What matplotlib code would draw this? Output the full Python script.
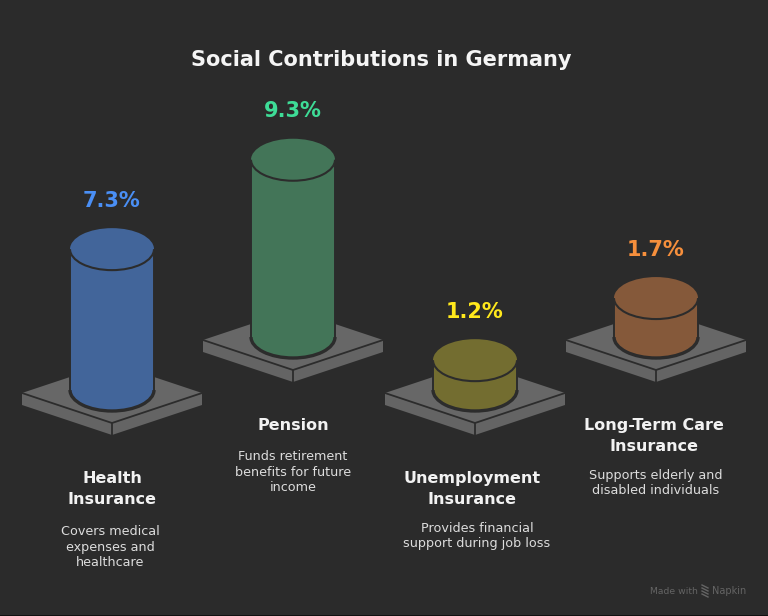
import matplotlib
matplotlib.use('Agg')
import matplotlib.pyplot as plt
from matplotlib.patches import Arc, Ellipse, Polygon, Rectangle

# contribution rates in percent
categories = ['Health\nInsurance', 'Pension', 'Unemployment\nInsurance', 'Long-Term Care\nInsurance']
values = [7.3, 9.3, 1.2, 1.7]
descriptions = ['Covers medical\nexpenses and\nhealthcare',
                'Funds retirement\nbenefits for future\nincome',
                'Provides financial\nsupport during job loss',
                'Supports elderly and\ndisabled individuals']
title = 'Social Contributions in Germany'

# layout, in pixels
centers_x = [112, 293, 475, 656]
floors_y = [390, 337, 390, 337]
name_x = [112, 293, 472, 654]
name_y = [489, 425, 489, 436]
desc_x = [110, 293, 477, 656]
desc_y = [547, 472, 536, 483]
body_colors = ['#42659a', '#437558', '#736d30', '#85593a']
label_colors = ['#4a8ff5', '#3edc97', '#ffe81c', '#f68f3c']

BG = '#2b2b2b'
EDGE = '#2c2c2c'
SLAB = '#676767'
SLAB_SIDE = '#646464'
RX, RY = 42, 21
HEIGHT_BASE, HEIGHT_SCALE = 8, 18.2

plt.rcParams['font.family'] = ['DejaVu Sans']

fig = plt.figure(figsize=(7.68, 6.16), dpi=100, facecolor=BG)
ax = fig.add_axes([0, 0, 1, 1])
ax.set_xlim(0, 768)
ax.set_ylim(616, 0)
ax.axis('off')


def draw_slab(cx, floor):
    # isometric plate under a cylinder, only the front edges are outlined
    cy = floor + 3
    w, h, t = 90, 30, 12
    ax.add_patch(Polygon([(cx - w, cy), (cx + w, cy), (cx + w, cy + t), (cx, cy + h + t), (cx - w, cy + t)],
                         fc=SLAB_SIDE, ec='none', zorder=1))
    ax.add_patch(Polygon([(cx - w, cy), (cx, cy - h), (cx + w, cy), (cx, cy + h)],
                         fc=SLAB, ec='none', zorder=2))
    ax.plot([cx - w, cx, cx + w], [cy, cy + h, cy], color=EDGE, lw=1.3, zorder=2)
    ax.plot([cx, cx], [cy + h, cy + h + t], color=EDGE, lw=1.3, zorder=2)


def draw_cylinder(cx, floor, value, color):
    top = floor - (HEIGHT_BASE + HEIGHT_SCALE * value)
    ax.add_patch(Ellipse((cx, floor), RX * 2, RY * 2, fc=color, ec='none', zorder=3))
    ax.add_patch(Arc((cx, floor), RX * 2, RY * 2, theta1=0, theta2=180, color=EDGE, lw=2.4, zorder=3))
    ax.add_patch(Rectangle((cx - RX, top), RX * 2, floor - top, fc=color, ec='none', zorder=4))
    ax.plot([cx - RX, cx - RX], [top, floor], color=EDGE, lw=1.4, zorder=4)
    ax.plot([cx + RX, cx + RX], [top, floor], color=EDGE, lw=1.4, zorder=4)
    ax.add_patch(Ellipse((cx, top), RX * 2, RY * 2, fc=color, ec='none', zorder=5))
    ax.add_patch(Arc((cx, top), RX * 2, RY * 2, theta1=0, theta2=180, color=EDGE, lw=1.5, zorder=6))
    return top


for i in range(len(values)):
    cx = centers_x[i]
    draw_slab(cx, floors_y[i])
    top = draw_cylinder(cx, floors_y[i], values[i], body_colors[i])
    ax.text(cx, top - 48.5, f'{values[i]}%', color=label_colors[i], fontsize=15, fontweight='bold',
            ha='center', va='center')
    ax.text(name_x[i], name_y[i], categories[i], color='#f2f2f2', fontsize=11.5, fontweight='bold',
            ha='center', va='center', linespacing=1.42)
    ax.text(desc_x[i], desc_y[i], descriptions[i], color='#dddddd', fontsize=9.2,
            ha='center', va='center', linespacing=1.27)

ax.text(381, 60, title, color='#f5f5f5', fontsize=15, fontweight='bold', ha='center', va='center')

# footer mark
ax.text(650, 591, 'Made with', color='#646464', fontsize=6.7, ha='left', va='center')
ax.text(712, 591, 'Napkin', color='#646464', fontsize=7, ha='left', va='center')
for dy in (-4, -1, 2, 5):
    ax.plot([702, 708], [591 + dy - 2, 591 + dy + 1], color='#646464', lw=1.0)

# dark last pixel row along the bottom border
ax.add_patch(Rectangle((0, 615), 768, 1, fc='#111111', ec='none', zorder=7))

fig.savefig('out.png', dpi=100, facecolor=BG)
